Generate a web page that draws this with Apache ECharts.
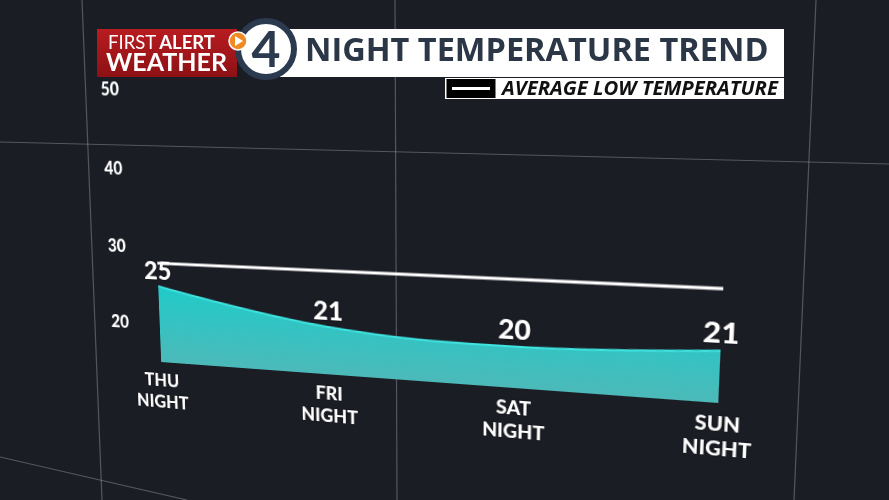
<!DOCTYPE html>
<html>
<head>
<meta charset="utf-8">
<script src="https://cdn.jsdelivr.net/npm/echarts@6/dist/echarts.min.js"></script>
<style>
  html, body { margin: 0; padding: 0; width: 889px; height: 500px; overflow: hidden; background: #1b1d25; }
  #bg, #main { position: absolute; left: 0; top: 0; width: 889px; height: 500px; }
  #main { transform-origin: 0 0; }
</style>
</head>
<body>
<div id="bg"></div>
<div id="main"></div>
<script>
// ---- data ----
const categories = ['THU\nNIGHT', 'FRI\nNIGHT', 'SAT\nNIGHT', 'SUN\nNIGHT'];
const nightLows = [25, 21, 20, 21];
const averageLows = [28, 28, 28, 28];
const yMin = 15, yMax = 50, yStep = 5;
const titleText = 'NIGHT TEMPERATURE TREND';
const legendText = 'AVERAGE LOW TEMPERATURE';

// ---- flat chart layout ----
const G = { left: 160, right: 169, top: 88, bottom: 132 };
const W = 889, H = 500;
const gw = W - G.left - G.right, gh = H - G.top - G.bottom;
const fx = i => G.left + i * gw / (categories.length - 1);
const fy = v => G.top + (yMax - v) / (yMax - yMin) * gh;

// ---- perspective fit (flat chart coords -> picture coords) ----
const pairs = [
  [[fx(0), fy(28)], [161, 264]],
  [[fx(3), fy(28)], [722, 293.5]],
  [[fx(0), fy(25)], [159, 286]],
  [[fx(0), fy(15)], [162, 363]],
  [[fx(1), fy(21)], [325, 323]],
  [[fx(1), fy(15)], [325, 373]],
  [[fx(2), fy(20)], [516, 347]],
  [[fx(2), fy(15)], [516, 387]],
  [[fx(3), fy(21)], [720.5, 350]],
  [[fx(3), fy(15)], [719, 401.5]],
  [[115, fy(50)], [111, 88]],
  [[115, fy(40)], [114, 168]],
  [[115, fy(30)], [117.5, 247]],
  [[115, fy(20)], [121, 325]]
];
function fitHomography(pts) {
  const s = 500;
  const M = Array.from({length: 8}, () => new Array(8).fill(0));
  const r = new Array(8).fill(0);
  const add = (row, rhs) => {
    for (let i = 0; i < 8; i++) { r[i] += row[i] * rhs; for (let j = 0; j < 8; j++) M[i][j] += row[i] * row[j]; }
  };
  pts.forEach(([[X, Y], [x, y]]) => {
    X /= s; Y /= s; x /= s; y /= s;
    add([X, Y, 1, 0, 0, 0, -X * x, -Y * x], x);
    add([0, 0, 0, X, Y, 1, -X * y, -Y * y], y);
  });
  for (let c = 0; c < 8; c++) {
    let p = c;
    for (let k = c + 1; k < 8; k++) if (Math.abs(M[k][c]) > Math.abs(M[p][c])) p = k;
    [M[c], M[p]] = [M[p], M[c]]; [r[c], r[p]] = [r[p], r[c]];
    for (let k = c + 1; k < 8; k++) {
      const f = M[k][c] / M[c][c];
      for (let j = c; j < 8; j++) M[k][j] -= f * M[c][j];
      r[k] -= f * r[c];
    }
  }
  const h = new Array(8).fill(0);
  for (let i = 7; i >= 0; i--) {
    let sum = r[i];
    for (let j = i + 1; j < 8; j++) sum -= M[i][j] * h[j];
    h[i] = sum / M[i][i];
  }
  return { a: h[0], b: h[1], c: h[2] * s, d: h[3], e: h[4], f: h[5] * s, g: h[6] / s, h: h[7] / s };
}
const T = fitHomography(pairs);
document.getElementById('main').style.transform =
  `matrix3d(${T.a},${T.d},0,${T.g},${T.b},${T.e},0,${T.h},0,0,1,0,${T.c},${T.f},0,1)`;

// ---- background + header ----
const bg = echarts.init(document.getElementById('bg'), null, { renderer: 'canvas' });
const lineStyle = { stroke: 'rgba(190,195,205,0.35)', lineWidth: 1.2 };
bg.setOption({
  backgroundColor: '#1b1d25',
  animation: false,
  graphic: [
    { type: 'line', shape: { x1: 82, y1: 0, x2: 102, y2: 500 }, style: lineStyle },
    { type: 'line', shape: { x1: 395, y1: 0, x2: 397, y2: 500 }, style: lineStyle },
    { type: 'line', shape: { x1: 816, y1: 0, x2: 794, y2: 500 }, style: lineStyle },
    { type: 'line', shape: { x1: 0, y1: 142, x2: 889, y2: 164 }, style: lineStyle },
    { type: 'line', shape: { x1: 0, y1: 457, x2: 187, y2: 500 }, style: lineStyle },
    // red badge
    { type: 'rect', shape: { x: 97, y: 29, width: 140, height: 48 },
      style: { fill: { type: 'linear', x: 0, y: 0, x2: 0, y2: 1, colorStops: [{ offset: 0, color: '#b71c20' }, { offset: 1, color: '#8d1115' }] } } },
    { type: 'text', x: 108, y: 34,
      style: { text: '{a|FIRST}{b|ALERT}', rich: {
        a: { fill: '#fff', fontSize: 18.5, fontFamily: 'Lato', fontWeight: 'normal', padding: [0, 3, 0, 0] },
        b: { fill: '#fff', fontSize: 18.5, fontFamily: 'Lato', fontWeight: 'bold' } } } },
    { type: 'text', x: 106, y: 50,
      style: { text: 'WEATHER', fill: '#fff', fontSize: 25, fontFamily: 'Lato', fontWeight: 'bold' } },
    // white title banner
    { type: 'rect', shape: { x: 280, y: 29, width: 504, height: 48 }, style: { fill: '#ffffff' } },
    { type: 'text', x: 305, y: 52,
      style: { text: titleText, fill: '#2b3646', fontSize: 32.5, fontFamily: 'Open Sans', fontWeight: 'bold', verticalAlign: 'middle' } },
    // station logo
    { type: 'circle', shape: { cx: 266, cy: 49, r: 28 }, style: { fill: '#ffffff', stroke: '#2b3a4e', lineWidth: 6 } },
    { type: 'text', x: 266, y: 51,
      style: { text: '4', fill: '#2b3a4e', fontSize: 50, fontFamily: 'Lato', fontWeight: 'bold', align: 'center', verticalAlign: 'middle' } },
    { type: 'circle', shape: { cx: 238, cy: 41, r: 9 }, style: { fill: '#f08a24', stroke: '#ffffff', lineWidth: 1.5 } },
    { type: 'polygon', shape: { points: [[235, 36], [235, 46], [243, 41]] }, style: { fill: '#ffffff' } },
    // legend
    { type: 'rect', shape: { x: 445, y: 78, width: 339, height: 21 }, style: { fill: '#ffffff' } },
    { type: 'rect', shape: { x: 446, y: 78.5, width: 50, height: 20 }, style: { fill: '#000000', stroke: '#ffffff', lineWidth: 1 } },
    { type: 'line', shape: { x1: 452, y1: 88.5, x2: 490, y2: 88.5 }, style: { stroke: '#ffffff', lineWidth: 3 } },
    { type: 'text', x: 502, y: 89,
      style: { text: legendText, fill: '#111', fontSize: 20.3, fontFamily: 'Open Sans', fontWeight: 'bold', fontStyle: 'italic', verticalAlign: 'middle' } }
  ]
});

// ---- chart ----
const chart = echarts.init(document.getElementById('main'), null, { renderer: 'canvas' });
chart.setOption({
  backgroundColor: 'transparent',
  animation: false,
  grid: { left: G.left, right: G.right, top: G.top, bottom: G.bottom },
  xAxis: {
    type: 'category', data: categories, boundaryGap: false,
    axisLine: { show: false }, axisTick: { show: false }, splitLine: { show: false },
    axisLabel: { interval: 0, color: '#ffffff', fontFamily: 'Lato', fontWeight: 900, fontSize: 19, lineHeight: 23, margin: 8,
      textShadowColor: 'rgba(0,0,0,0.6)', textShadowBlur: 3 }
  },
  yAxis: {
    type: 'value', min: yMin, max: yMax, interval: yStep,
    axisLine: { show: false }, axisTick: { show: false }, splitLine: { show: false },
    axisLabel: { formatter: v => (v % 10 === 0 ? String(v) : ''), color: '#ffffff', fontFamily: 'Lato', fontWeight: 900, fontSize: 18, margin: 36 }
  },
  series: [
    {
      name: 'Night Low', type: 'line', data: nightLows, smooth: 0.4,
      symbol: 'circle', symbolSize: 1, itemStyle: { color: 'rgba(0,0,0,0)' },
      lineStyle: { color: '#3ee4e0', width: 2 },
      areaStyle: { origin: 'start', opacity: 1, color: { type: 'linear', x: 0, y: 0, x2: 0, y2: 1,
        colorStops: [{ offset: 0, color: '#20cbc9' }, { offset: 1, color: '#4cb9b9' }] } },
      label: { show: true, position: 'top', distance: 2, color: '#ffffff', fontFamily: 'Lato', fontWeight: 900, fontSize: 27,
        textShadowColor: 'rgba(0,0,0,0.6)', textShadowBlur: 3 },
      z: 2
    },
    {
      name: 'Average Low Temperature', type: 'line', data: averageLows,
      symbol: 'none', lineStyle: { color: '#ffffff', width: 3 }, z: 3
    }
  ]
});
</script>
</body>
</html>
